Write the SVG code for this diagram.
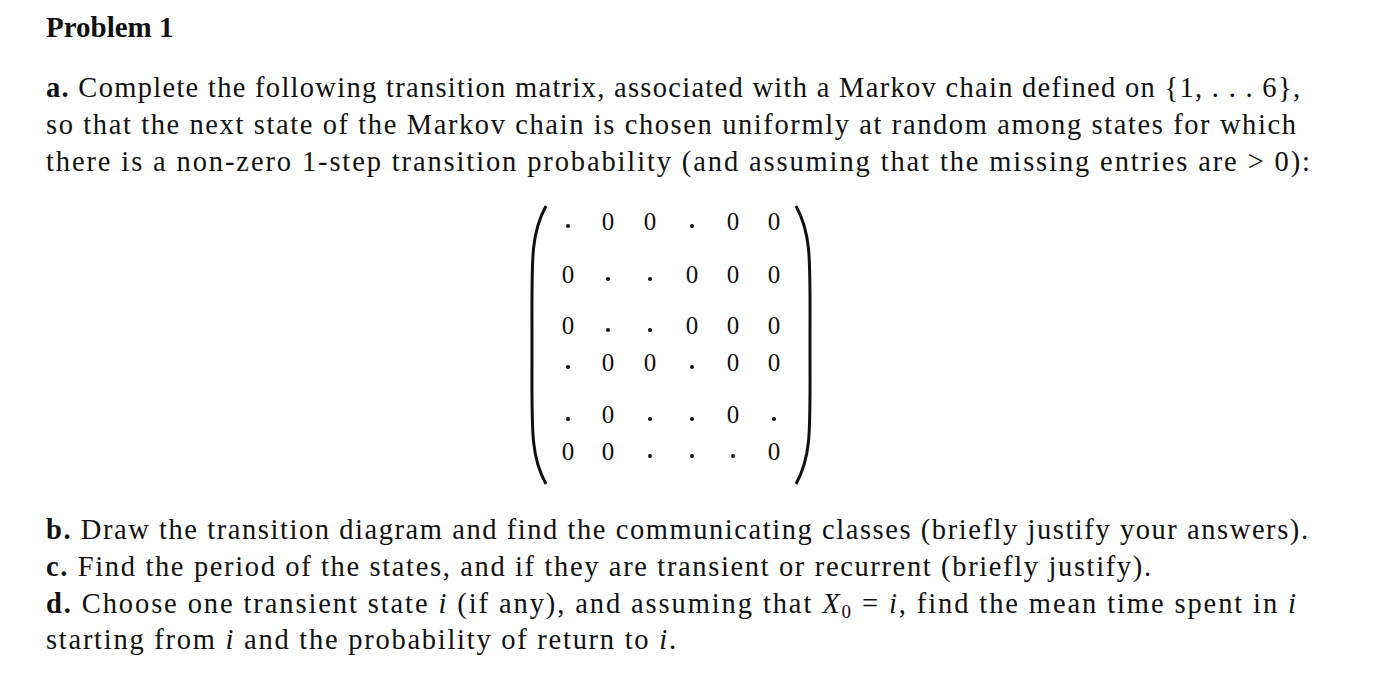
<svg xmlns="http://www.w3.org/2000/svg" width="1398" height="680" viewBox="0 0 1398 680">
<style>
text{font-family:"Liberation Serif","DejaVu Serif",serif;font-size:28.5px;fill:#111}
.b{font-weight:bold}
.i{font-style:italic}
.m{text-anchor:middle;font-size:25px}
</style>
<rect width="1398" height="680" fill="#fff"/>
<text x="46" y="37" class="b" style="font-size:29px">Problem 1</text>
<text x="46" y="97" textLength="1254"><tspan class="b">a.</tspan> Complete the following transition matrix, associated with a Markov chain defined on {1, . . . 6},</text>
<text x="46" y="134" textLength="1250">so that the next state of the Markov chain is chosen uniformly at random among states for which</text>
<text x="46" y="171" textLength="1264">there is a non-zero 1-step transition probability (and assuming that the missing entries are &gt; 0):</text>
<g id="matrix">
<path d="M546,206 C530,235 532,260 532,345 C532,430 530,455 546,484" fill="none" stroke="#111" stroke-width="3"/>
<path d="M796,206 C812,235 810,260 810,345 C810,430 812,455 796,484" fill="none" stroke="#111" stroke-width="3"/>
<g fill="#111">
<circle cx="568" cy="226" r="2"/><circle cx="692" cy="226" r="2"/>
<circle cx="608" cy="279" r="2"/><circle cx="650" cy="279" r="2"/>
<circle cx="608" cy="330" r="2"/><circle cx="650" cy="330" r="2"/>
<circle cx="568" cy="367" r="2"/><circle cx="692" cy="367" r="2"/>
<circle cx="568" cy="419" r="2"/><circle cx="650" cy="419" r="2"/><circle cx="692" cy="419" r="2"/><circle cx="774" cy="419" r="2"/>
<circle cx="650" cy="456" r="2"/><circle cx="692" cy="456" r="2"/><circle cx="733" cy="456" r="2"/>
</g>
<text class="m" x="608" y="230">0</text><text class="m" x="650" y="230">0</text><text class="m" x="733" y="230">0</text><text class="m" x="774" y="230">0</text>
<text class="m" x="568" y="283">0</text><text class="m" x="692" y="283">0</text><text class="m" x="733" y="283">0</text><text class="m" x="774" y="283">0</text>
<text class="m" x="568" y="334">0</text><text class="m" x="692" y="334">0</text><text class="m" x="733" y="334">0</text><text class="m" x="774" y="334">0</text>
<text class="m" x="608" y="371">0</text><text class="m" x="650" y="371">0</text><text class="m" x="733" y="371">0</text><text class="m" x="774" y="371">0</text>
<text class="m" x="608" y="423">0</text><text class="m" x="733" y="423">0</text>
<text class="m" x="568" y="460">0</text><text class="m" x="608" y="460">0</text><text class="m" x="774" y="460">0</text>
</g>
<text x="46" y="539" textLength="1262"><tspan class="b">b.</tspan> Draw the transition diagram and find the communicating classes (briefly justify your answers).</text>
<text x="46" y="576" textLength="1105"><tspan class="b">c.</tspan> Find the period of the states, and if they are transient or recurrent (briefly justify).</text>
<text x="46" y="613" textLength="1250"><tspan class="b">d.</tspan> Choose one transient state <tspan class="i">i</tspan> (if any), and assuming that <tspan class="i">X</tspan><tspan style="font-size:19px" dy="5">0</tspan><tspan dy="-5"> = </tspan><tspan class="i">i</tspan>, find the mean time spent in <tspan class="i">i</tspan></text>
<text x="46" y="649" textLength="630">starting from <tspan class="i">i</tspan> and the probability of return to <tspan class="i">i</tspan>.</text>
</svg>
